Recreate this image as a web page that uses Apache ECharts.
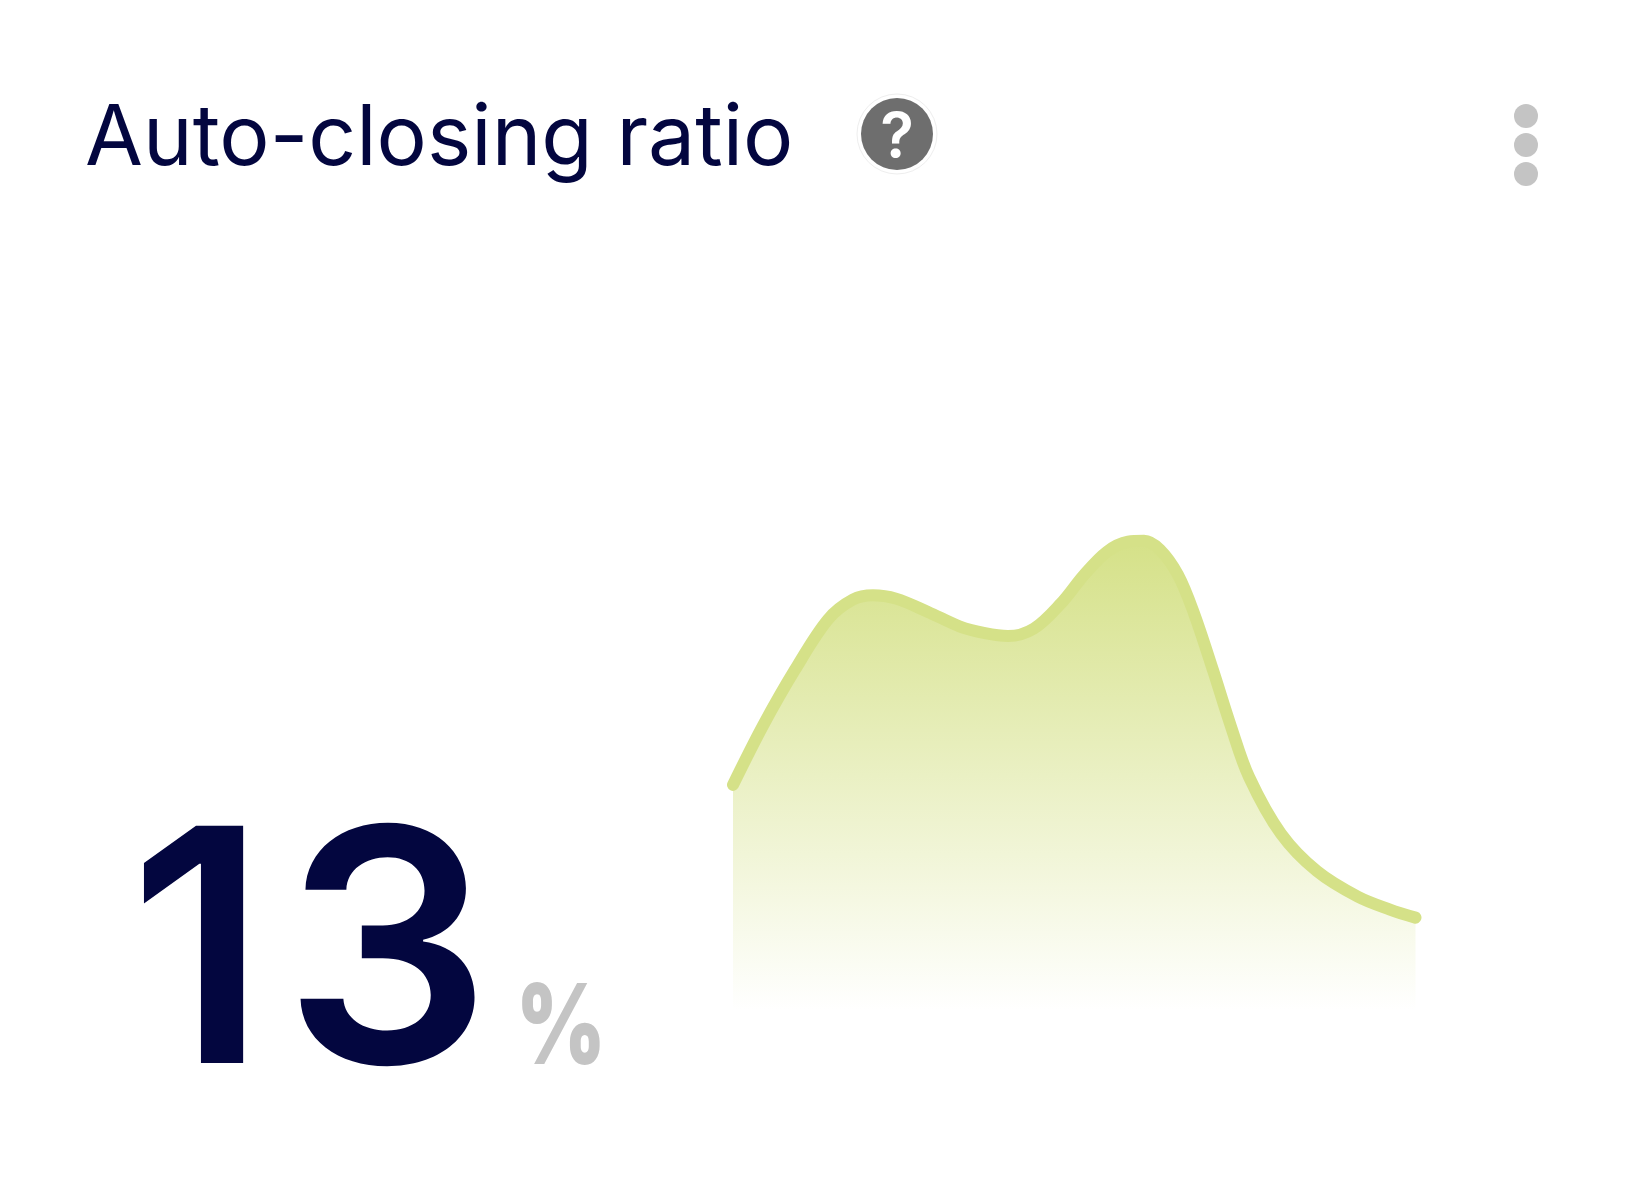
<!DOCTYPE html>
<html><head><meta charset="utf-8">
<style>html,body{margin:0;padding:0;background:#fff}#c{width:1626px;height:1200px}</style>
<script src="https://cdn.jsdelivr.net/npm/echarts@6/dist/echarts.min.js"></script>
</head><body><div id="c"></div>
<script>
const titleText = 'Auto-closing ratio';
const kpiDigits = ['1','3'];
const kpiUnit = '%';
const xValues = [0,30,62,95,120,140,163,195,227,252,275,301,328,351,374,395,411,427,445,461,480,498,516,548,584,625,657,682.5];
const yValues = [47.7,60.2,72.0,82.6,86.8,87.7,87.0,84.2,81.1,79.7,79.1,80.7,86.0,92.0,96.9,99.0,99.2,97.3,92.0,83.9,71.9,60.0,49.4,37.4,29.5,24.1,21.4,19.7];
const chart = echarts.init(document.getElementById('c'), null, {renderer:'canvas'});
const navy = '#03063f';
chart.setOption({
  animation:false,
  backgroundColor:'#fff',
  grid:{left:733,top:537,width:682.5,height:474,containLabel:false},
  xAxis:{type:'value',min:0,max:682.5,show:false},
  yAxis:{type:'value',min:0,max:100,show:false},
  series:[{
    type:'line',
    data:xValues.map((x,i)=>[x,yValues[i]]),
    smooth:0.34,
    showSymbol:false,
    clip:false,
    lineStyle:{color:'#d5e188',width:12,cap:'round'},
    areaStyle:{opacity:1,color:new echarts.graphic.LinearGradient(0,0,0,1,[
      {offset:0,color:'rgba(213,225,136,1)'},
      {offset:1,color:'rgba(213,225,136,0)'}
    ])}
  }],
  graphic:[
    {type:'text',left:85,top:98,style:{text:titleText,font:'400 84px Inter',fill:navy}},
    {type:'text',left:129,top:802,style:{text:kpiDigits[0],font:'600 326px Inter',fill:navy}},
    {type:'text',left:283.5,top:802,style:{text:kpiDigits[1],font:'600 326px Inter',fill:navy}},
    {type:'text',x:516,y:975,scaleX:0.86,scaleY:1.11,style:{text:kpiUnit,font:'900 100px Inter',fill:'#c4c4c4'}},
    {type:'circle',shape:{cx:897,cy:134,r:40},style:{fill:'#fff',stroke:'#eeeeee',lineWidth:1}},
    {type:'circle',shape:{cx:897,cy:134,r:36},style:{fill:'#6e6e6e'}},
    {type:'text',x:897,y:138,style:{text:'?',font:'600 62px Inter',fill:'#fff',align:'center',verticalAlign:'middle'}},
    {type:'circle',shape:{cx:1526,cy:116,r:12},style:{fill:'#c4c4c4'}},
    {type:'circle',shape:{cx:1526,cy:145,r:12},style:{fill:'#c4c4c4'}},
    {type:'circle',shape:{cx:1526,cy:174,r:12},style:{fill:'#c4c4c4'}}
  ]
});
</script></body></html>
